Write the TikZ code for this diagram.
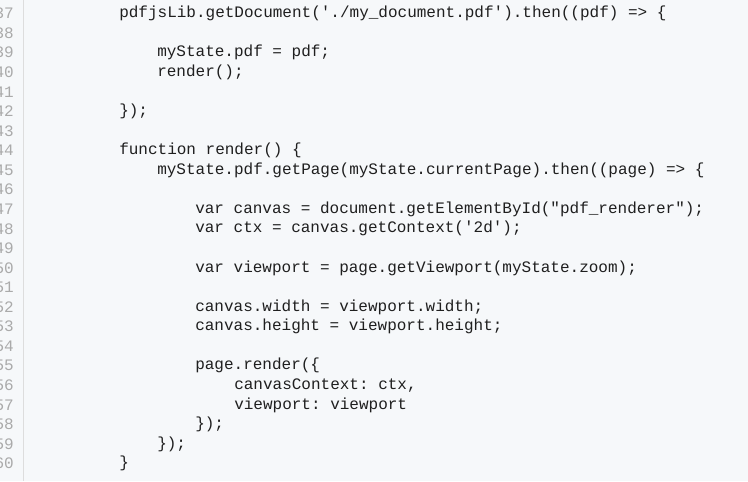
\documentclass[tikz,border=0pt]{standalone}
\usepackage{fontspec}
\setmonofont{Liberation Mono}
\definecolor{bg}{HTML}{F6F8FA}
\definecolor{gut}{HTML}{DDDDDD}
\definecolor{num}{HTML}{AAAAAA}
\definecolor{code}{HTML}{1F1F1F}
\begin{document}
\begin{tikzpicture}[x=0.75pt,y=-0.75pt,
  codeline/.style={anchor=west,inner sep=0pt,text=code,font=\ttfamily\fontsize{12pt}{14pt}\selectfont},
  lnum/.style={anchor=east,inner sep=0pt,text=num,font=\ttfamily\fontsize{12pt}{14pt}\selectfont}]
\fill[bg] (0,0) rectangle (748,481);
\useasboundingbox (0,0) rectangle (748,481);
\clip (0,0) rectangle (748,481);
\draw[gut,line width=0.75pt] (23.5,0) -- (23.5,481);
\foreach \n [count=\i from 0] in {37,...,60}
  \node[lnum] (n\n) at (14,13.5+19.57*\i) {\n};
\def\Y#1{13.5+19.57*(#1-37)}
\node[codeline] (l37) at (119,{\Y{37}}) {pdfjsLib.getDocument('./my\_document.pdf').then((pdf) => \{};
\node[codeline] (l39) at (157,{\Y{39}}) {myState.pdf = pdf;};
\node[codeline] (l40) at (157,{\Y{40}}) {render();};
\node[codeline] (l42) at (119,{\Y{42}}) {\});};
\node[codeline] (l44) at (119,{\Y{44}}) {function render() \{};
\node[codeline] (l45) at (157,{\Y{45}}) {myState.pdf.getPage(myState.currentPage).then((page) => \{};
\node[codeline] (l47) at (195,{\Y{47}}) {var canvas = document.getElementById("pdf\_renderer");};
\node[codeline] (l48) at (195,{\Y{48}}) {var ctx = canvas.getContext('2d');};
\node[codeline] (l50) at (195,{\Y{50}}) {var viewport = page.getViewport(myState.zoom);};
\node[codeline] (l52) at (195,{\Y{52}}) {canvas.width = viewport.width;};
\node[codeline] (l53) at (195,{\Y{53}}) {canvas.height = viewport.height;};
\node[codeline] (l55) at (195,{\Y{55}}) {page.render(\{};
\node[codeline] (l56) at (234,{\Y{56}}) {canvasContext: ctx,};
\node[codeline] (l57) at (234,{\Y{57}}) {viewport: viewport};
\node[codeline] (l58) at (195,{\Y{58}}) {\});};
\node[codeline] (l59) at (157,{\Y{59}}) {\});};
\node[codeline] (l60) at (119,{\Y{60}}) {\}};
\end{tikzpicture}
\end{document}
